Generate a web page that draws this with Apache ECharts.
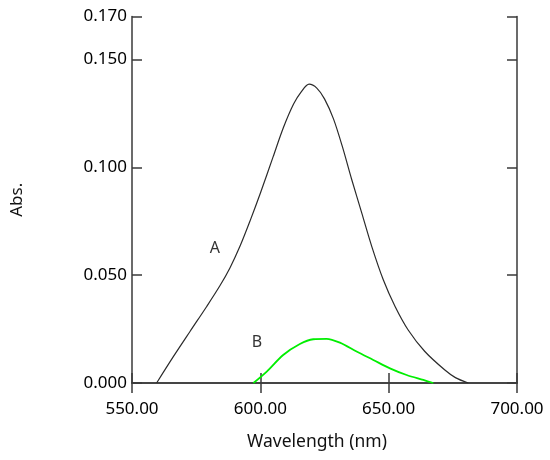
<!DOCTYPE html>
<html>
<head>
<meta charset="utf-8">
<script src="https://cdn.jsdelivr.net/npm/echarts@6/dist/echarts.min.js"></script>
<style>
  html, body { margin: 0; padding: 0; background: #fff; }
  #chart { width: 550px; height: 460px; }
</style>
</head>
<body>
<div id="chart"></div>
<script>
// Curve A: [wavelength (nm), absorbance]
var curveA = [
  [559.6, 0], [566.1, 0.0122], [572.6, 0.0239], [579.1, 0.0355], [584.3, 0.0452],
  [588.2, 0.0535], [592.1, 0.0635], [596, 0.0752], [600, 0.0880], [605, 0.1050],
  [609, 0.1185], [613, 0.1295], [616, 0.1352], [619, 0.1386], [622, 0.1368],
  [625, 0.1318], [628.5, 0.1225], [632, 0.1095], [635.6, 0.0944], [639.5, 0.0789],
  [643.4, 0.0634], [647.9, 0.0479], [652.5, 0.0355], [657.6, 0.0246], [664.1, 0.0146],
  [671.9, 0.0060], [676, 0.0025], [681, 0]
];
// Curve B: [wavelength (nm), absorbance]
var curveB = [
  [597.3, 0], [602.5, 0.0053], [608.9, 0.0130], [615.4, 0.0181], [620.6, 0.0203],
  [625.8, 0.0205], [631, 0.0187], [637.5, 0.0146], [644, 0.0107], [650.5, 0.0068],
  [657, 0.0037], [663.5, 0.0014], [667.4, 0]
];
var labelA = [582.3, 0.0623];
var labelB = [598.7, 0.0186];
var xTicks = [550, 600, 650, 700];
var yTicks = [0, 0.05, 0.1, 0.15, 0.17];

var FONT = 'Noto Sans';
var chart = echarts.init(document.getElementById('chart'), null, { renderer: 'canvas' });

var axisLineStyle = { color: '#3a3a3a', width: 1.5 };

chart.setOption({
  animation: false,
  backgroundColor: '#fff',
  grid: { left: 132, right: 33, top: 16.5, bottom: 77, containLabel: false },
  xAxis: [
    {
      type: 'value', position: 'bottom',
      min: xTicks[0], max: xTicks[xTicks.length - 1], interval: 50,
      name: 'Wavelength (nm)', nameLocation: 'middle', nameGap: 50,
      nameTextStyle: { fontFamily: FONT, fontSize: 17.5, color: '#111', padding: [0, 15, 0, 0] },
      axisLine: { show: true, lineStyle: axisLineStyle },
      axisTick: { show: true, inside: true, length: 10, lineStyle: axisLineStyle },
      axisLabel: { fontFamily: FONT, fontSize: 17, color: '#000', margin: 18,
        formatter: function (v) { return v.toFixed(2); } },
      splitLine: { show: false }
    },
    {
      type: 'value', position: 'top',
      min: xTicks[0], max: xTicks[xTicks.length - 1], interval: 50,
      axisLine: { show: true, lineStyle: axisLineStyle },
      axisTick: { show: true, inside: true, length: 10, lineStyle: axisLineStyle },
      axisLabel: { show: false },
      splitLine: { show: false }
    }
  ],
  yAxis: [
    {
      type: 'value', position: 'left',
      min: yTicks[0], max: yTicks[yTicks.length - 1], interval: 0.05,
      name: 'Abs.', nameLocation: 'middle', nameGap: 106, nameRotate: 90,
      nameTextStyle: { fontFamily: FONT, fontSize: 17, color: '#111' },
      axisLine: { show: true, lineStyle: axisLineStyle },
      axisTick: { show: true, inside: true, length: 10, lineStyle: axisLineStyle },
      axisLabel: { fontFamily: FONT, fontSize: 17, color: '#000', margin: 5,
        showMaxLabel: true,
        formatter: function (v) { return v.toFixed(3); } },
      splitLine: { show: false }
    },
    {
      type: 'value', position: 'right',
      min: yTicks[0], max: yTicks[yTicks.length - 1], interval: 0.05,
      axisLine: { show: true, lineStyle: axisLineStyle },
      axisTick: { show: true, inside: true, length: 10, lineStyle: axisLineStyle },
      axisLabel: { show: false },
      splitLine: { show: false }
    }
  ],
  series: [
    {
      name: 'A', type: 'line', data: curveA, smooth: 0.3,
      showSymbol: false, symbol: 'none',
      lineStyle: { color: '#2b2b2b', width: 1.2 },
      markPoint: {
        symbol: 'circle', symbolSize: 0,
        label: { show: true, position: 'inside', formatter: 'A',
          fontFamily: FONT, fontSize: 16, color: '#333' },
        data: [{ coord: labelA }]
      }
    },
    {
      name: 'B', type: 'line', data: curveB, smooth: 0.3,
      showSymbol: false, symbol: 'none',
      lineStyle: { color: '#00ee00', width: 1.8 },
      markPoint: {
        symbol: 'circle', symbolSize: 0,
        label: { show: true, position: 'inside', formatter: 'B',
          fontFamily: FONT, fontSize: 16, color: '#333' },
        data: [{ coord: labelB }]
      }
    }
  ]
});
</script>
</body>
</html>
